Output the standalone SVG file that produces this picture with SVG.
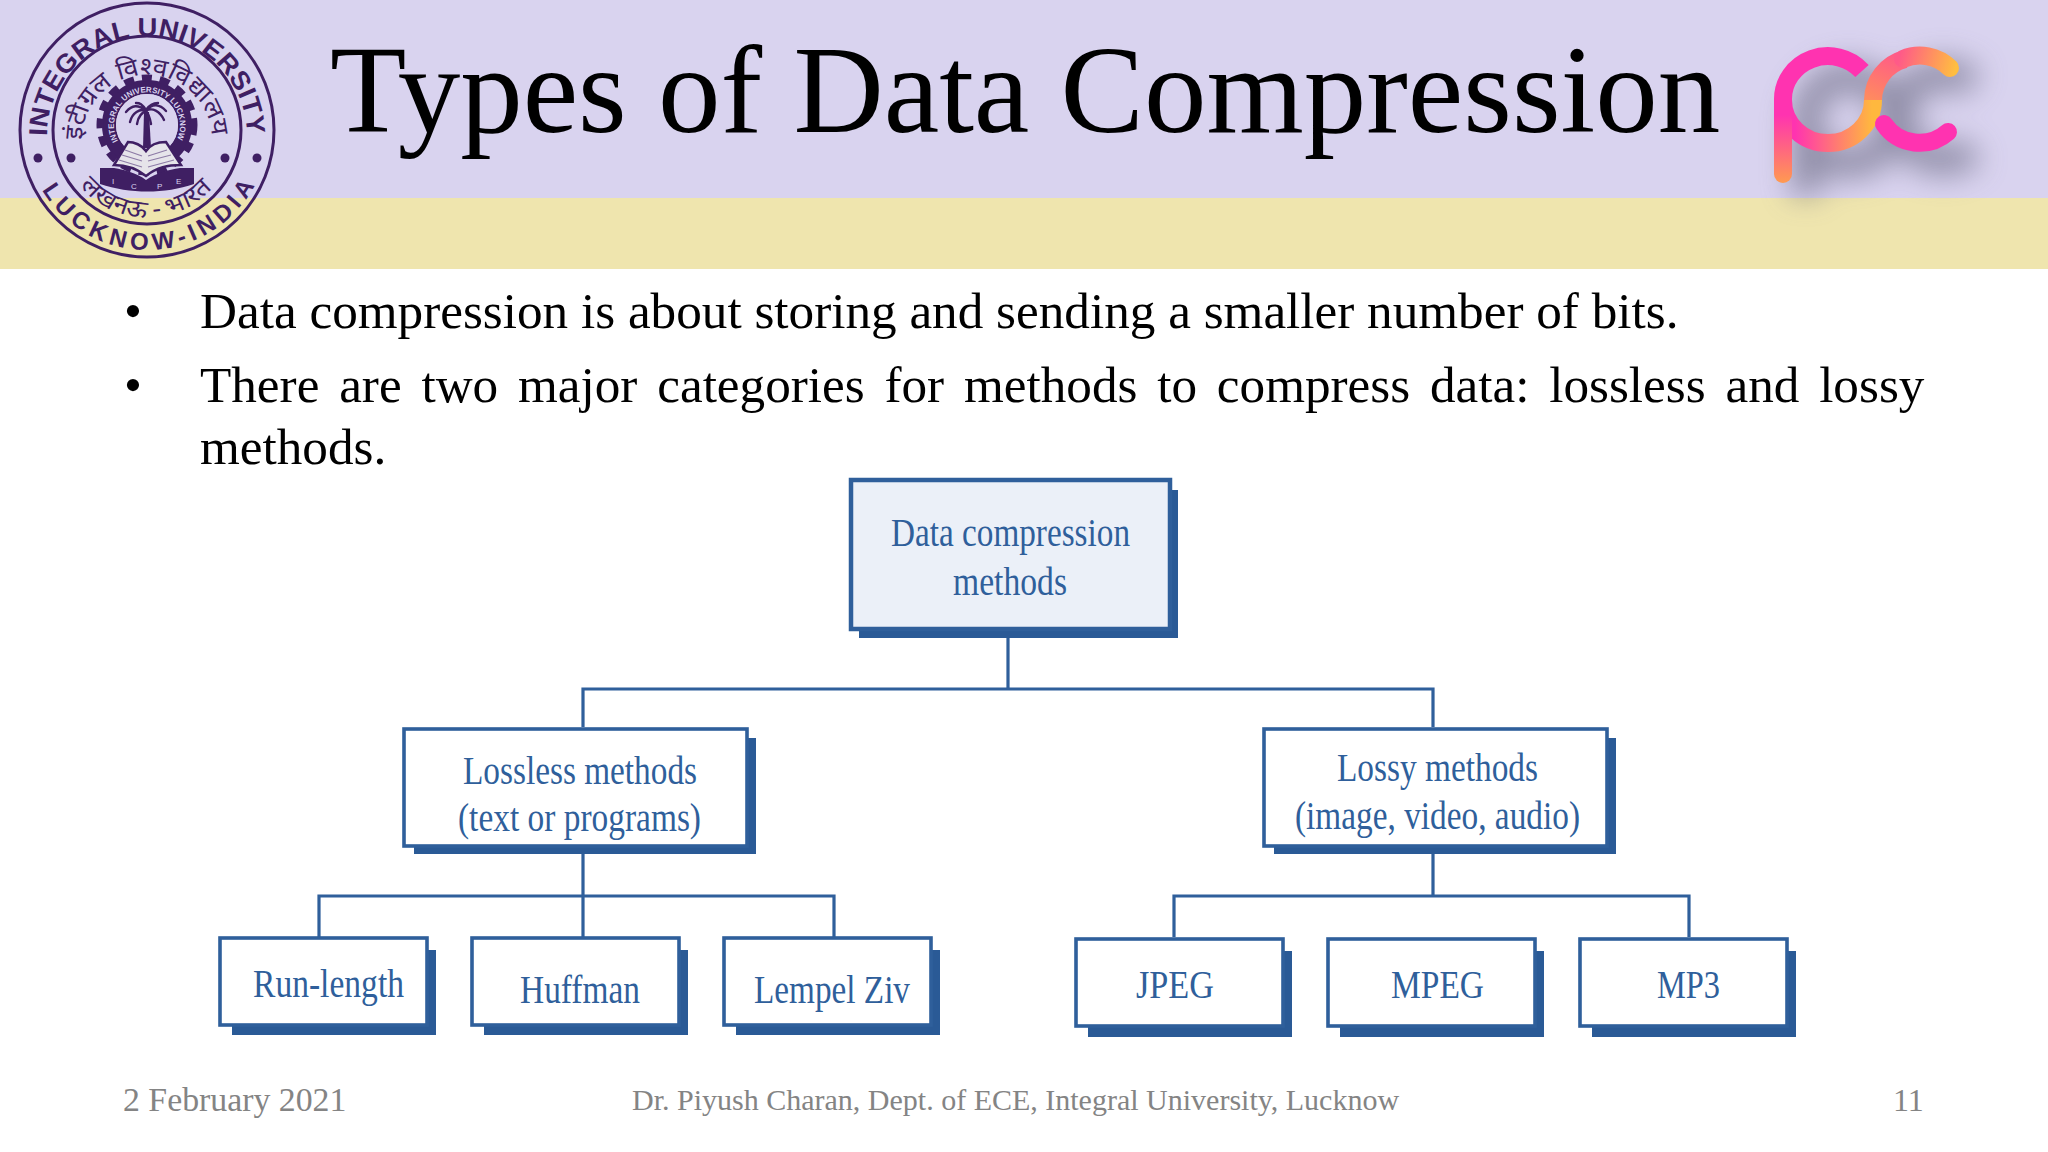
<svg xmlns="http://www.w3.org/2000/svg" width="2048" height="1152" viewBox="0 0 2048 1152">
<style>
.ser{font-family:"Liberation Serif","Times New Roman",serif}
.box{fill:#fff;stroke:#2f5f9b;stroke-width:3.6}
.sh{fill:#2a5a96}
.lbl{font-family:"Liberation Serif","Times New Roman",serif;font-size:41px;fill:#2f5f9b}
.con{fill:none;stroke:#2f5f9b;stroke-width:3.2}
.body{font-family:"Liberation Serif","Times New Roman",serif;font-size:51.2px;fill:#000}
.foot{font-family:"Liberation Serif","Times New Roman",serif;fill:#848484}
.sealtxt{font-family:"Liberation Sans",Arial,sans-serif;font-weight:bold;fill:#3f1f63}
.hi{font-family:"Noto Sans","Noto Sans Devanagari","Liberation Sans",sans-serif;fill:#3f1f63}
.ring{fill:none;stroke:#3f1f63}
.pur{fill:#3f1f63}
.leaf{fill:none;stroke:#3f1f63;stroke-width:2.4;stroke-linecap:round}
.pc{fill:none;stroke-width:18}
</style>
<defs>
<filter id="blur" x="-40%" y="-40%" width="180%" height="180%"><feGaussianBlur stdDeviation="15"/></filter>
<linearGradient id="gStem" gradientUnits="userSpaceOnUse" x1="1783" y1="115" x2="1783" y2="183"><stop offset="0" stop-color="#ff33b0"/><stop offset="1" stop-color="#ff9a50"/></linearGradient>
<linearGradient id="gBowl" gradientUnits="userSpaceOnUse" x1="1795" y1="125" x2="1872" y2="125"><stop offset="0" stop-color="#ff33b0"/><stop offset="1" stop-color="#ffb83e"/></linearGradient>
<linearGradient id="gS" gradientUnits="userSpaceOnUse" x1="1868" y1="130" x2="1900" y2="55"><stop offset="0" stop-color="#ffa648"/><stop offset="1" stop-color="#ff5a88"/></linearGradient>
<linearGradient id="gEnd" gradientUnits="userSpaceOnUse" x1="1900" y1="55" x2="1955" y2="70"><stop offset="0" stop-color="#ff5a88"/><stop offset="1" stop-color="#ffbe40"/></linearGradient>
<path id="arcTop" d="M47 136A100 100 0 0 1 247 136"/>
<path id="arcBot" d="M42 190A122 122 0 0 0 252 190"/>
<path id="arcHiTop" d="M82 140A65 65 0 0 1 212 140"/>
<path id="arcHiBot" d="M80 186A87 87 0 0 0 214 186"/>
<path id="arcGear" d="M118 141A33 33 0 1 1 176 141"/>
</defs>

<rect width="2048" height="1152" fill="#fff"/>
<rect width="2048" height="198" fill="#d9d3ef"/>
<rect y="198" width="2048" height="71" fill="#efe5ae"/>

<g id="pc-logo">
<g filter="url(#blur)" fill="none" stroke="#64647c" stroke-width="30" opacity=".62">
<path d="M1806 195V120a43 43 0 1 1 43 43 43 43 0 0 1-43-43"/>
<path d="M1972 85a43 43 0 1 0 0 64"/>
</g>
<path class="pc" stroke="url(#gBowl)" d="M1783 100A45 43 0 0 0 1873 100"/>
<path class="pc" stroke="#ff33b0" d="M1862 71A45 43 0 0 0 1783 100V125"/>
<path class="pc" stroke="url(#gStem)" stroke-linecap="round" d="M1783 120V174"/>
<path class="pc" stroke="url(#gS)" d="M1873 100A43 43 0 0 1 1905 59"/>
<path class="pc" stroke="url(#gEnd)" stroke-linecap="round" d="M1903 59A43 43 0 0 1 1950 68"/>
<path class="pc" stroke="#ff33b0" stroke-linecap="round" d="M1884 124A43 43 0 0 0 1948 132"/>
</g>

<g id="seal">
<circle class="ring" cx="147" cy="130" r="127" stroke-width="3"/>
<circle class="ring" cx="147" cy="130" r="94" stroke-width="3"/>
<circle class="pur" cx="38" cy="158" r="4.5"/><circle class="pur" cx="257" cy="158" r="4.5"/>
<circle class="pur" cx="71" cy="158" r="4.5"/><circle class="pur" cx="225" cy="158" r="4.5"/>
<text class="sealtxt" font-size="26"><textPath href="#arcTop" textLength="312" lengthAdjust="spacingAndGlyphs">INTEGRAL UNIVERSITY</textPath></text>
<text class="sealtxt" font-size="24"><textPath href="#arcBot" textLength="258" lengthAdjust="spacing">LUCKNOW-INDIA</textPath></text>
<text class="hi" font-size="25"><textPath href="#arcHiTop" textLength="200" lengthAdjust="spacingAndGlyphs">इंटीग्रल विश्वविद्यालय</textPath></text>
<text class="hi" font-size="24"><textPath href="#arcHiBot" textLength="150" lengthAdjust="spacingAndGlyphs">लखनऊ - भारत</textPath></text>
<circle cx="147" cy="125" r="38" fill="none" stroke="#3f1f63" stroke-width="14"/>
<circle cx="147" cy="125" r="47" fill="none" stroke="#3f1f63" stroke-width="7" stroke-dasharray="10 8"/>
<circle cx="147" cy="125" r="31" fill="#d9d3ef"/>
<text font-family="Liberation Sans,Arial,sans-serif" font-size="8" font-weight="bold" fill="#d9d3ef"><textPath href="#arcGear" textLength="134" lengthAdjust="spacingAndGlyphs">INTEGRAL UNIVERSITY LUCKNOW</textPath></text>
<path class="pur" d="M144 112h5l2 36h-8z"/>
<path class="leaf" d="M146 111C138 104 132 105 126 112M146 111C140 108 132 113 130 122M146 111C143 112 138 116 137 124M146 111C148 113 150 118 151 124M146 111C152 107 160 111 164 120M146 111C152 103 160 104 166 111M146 110C142 104 140 103 136 103M146 110C150 104 154 103 158 103"/>
<path d="M146 176C135 167 124 165 114 165L128 142C134 142 142 145 146 151C150 145 158 142 166 142L181 165C168 165 157 167 146 176Z" fill="#e6e4ea" stroke="#3f1f63" stroke-width="2.5"/>
<path d="M125 150L142 156M122 155L142 161M119 160L142 167M148 156L167 150M148 161L171 155M148 167L174 160" stroke="#8d7ba6" stroke-width="1.2" fill="none"/>
<path class="pur" d="M100 168H114C125 170 137 173 146 180C156 173 168 170 180 168H194V184C165 194 130 194 100 184Z"/>
<text font-family="Liberation Sans,Arial,sans-serif" font-size="8" fill="#d9d3ef"><tspan x="112" y="184">I</tspan><tspan x="131" y="189">C</tspan><tspan x="157" y="189">P</tspan><tspan x="176" y="184">E</tspan></text>
</g>

<text id="title" class="ser" x="330" y="132" font-size="125" fill="#000">Types of Data Compression</text>

<g id="bullets">
<text class="body" x="124" y="328">•</text>
<text class="body" x="200" y="328">Data compression is about storing and sending a smaller number of bits.</text>
<text class="body" x="124" y="402">•</text>
<text class="body" x="200" y="402" word-spacing="7">There are two major categories for methods to compress data: lossless and lossy</text>
<text class="body" x="200" y="464">methods.</text>
</g>

<g id="connectors">
<path class="con" d="M1008 636V689M583 727V689H1433V727"/>
<path class="con" d="M583 852V937M319 937V896H834V937"/>
<path class="con" d="M1433 852V896M1174 937V896H1689V937"/>
</g>

<g id="node-root">
<rect class="sh" x="859" y="490" width="319" height="148"/>
<rect class="box" x="851" y="480" width="319" height="149" style="fill:#ebf0f8;stroke-width:4.5"/>
<text class="lbl" x="891" y="546" textLength="239" lengthAdjust="spacingAndGlyphs">Data compression</text>
<text class="lbl" x="953" y="595" textLength="114" lengthAdjust="spacingAndGlyphs">methods</text>
</g>
<g id="node-lossless">
<rect class="sh" x="414" y="738" width="342" height="116"/>
<rect class="box" x="404" y="729" width="343" height="117"/>
<text class="lbl" x="463" y="784" textLength="234" lengthAdjust="spacingAndGlyphs">Lossless methods</text>
<text class="lbl" x="458" y="831" textLength="243" lengthAdjust="spacingAndGlyphs">(text or programs)</text>
</g>
<g id="node-lossy">
<rect class="sh" x="1274" y="738" width="342" height="116"/>
<rect class="box" x="1264" y="729" width="343" height="117"/>
<text class="lbl" x="1337" y="781" textLength="201" lengthAdjust="spacingAndGlyphs">Lossy methods</text>
<text class="lbl" x="1295" y="829" textLength="285" lengthAdjust="spacingAndGlyphs">(image, video, audio)</text>
</g>
<g id="node-runlength">
<rect class="sh" x="232" y="950" width="204" height="85"/>
<rect class="box" x="220" y="938" width="207" height="87"/>
<text class="lbl" x="253" y="997" textLength="151" lengthAdjust="spacingAndGlyphs">Run-length</text>
</g>
<g id="node-huffman">
<rect class="sh" x="484" y="950" width="204" height="85"/>
<rect class="box" x="472" y="938" width="207" height="87"/>
<text class="lbl" x="520" y="1003" textLength="120" lengthAdjust="spacingAndGlyphs">Huffman</text>
</g>
<g id="node-lempelziv">
<rect class="sh" x="736" y="950" width="204" height="85"/>
<rect class="box" x="724" y="938" width="207" height="87"/>
<text class="lbl" x="754" y="1003" textLength="156" lengthAdjust="spacingAndGlyphs">Lempel Ziv</text>
</g>
<g id="node-jpeg">
<rect class="sh" x="1088" y="951" width="204" height="86"/>
<rect class="box" x="1076" y="939" width="207" height="87"/>
<text class="lbl" x="1136" y="998" textLength="78" lengthAdjust="spacingAndGlyphs">JPEG</text>
</g>
<g id="node-mpeg">
<rect class="sh" x="1340" y="951" width="204" height="86"/>
<rect class="box" x="1328" y="939" width="207" height="87"/>
<text class="lbl" x="1391" y="998" textLength="93" lengthAdjust="spacingAndGlyphs">MPEG</text>
</g>
<g id="node-mp3">
<rect class="sh" x="1592" y="951" width="204" height="86"/>
<rect class="box" x="1580" y="939" width="207" height="87"/>
<text class="lbl" x="1657" y="998" textLength="63" lengthAdjust="spacingAndGlyphs">MP3</text>
</g>

<g id="footer">
<text class="foot" x="123" y="1111" font-size="33.8">2 February 2021</text>
<text class="foot" x="632" y="1110" font-size="30">Dr. Piyush Charan, Dept. of ECE, Integral University, Lucknow</text>
<text class="foot" x="1893" y="1111" font-size="32">11</text>
</g>
</svg>
